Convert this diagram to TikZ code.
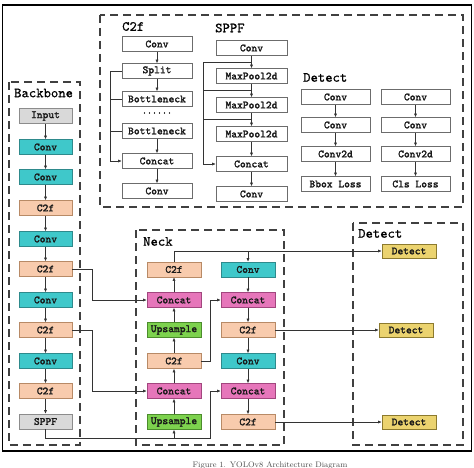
\documentclass[tikz,border=0pt]{standalone}
\usepackage{fontspec}
\newfontfamily\bxf{lmmono10-regular.otf}[FakeBold=1.8]
\newfontfamily\lbf{lmmono10-regular.otf}[FakeBold=0.6]
\usetikzlibrary{arrows.meta,calc}
\definecolor{cgray}{HTML}{D9D9D9}\definecolor{dgray}{HTML}{8C8C8C}
\definecolor{cconv}{HTML}{3FC8CA}\definecolor{dconv}{HTML}{2E8A8C}
\definecolor{cc2f}{HTML}{F8CBAD}\definecolor{dc2f}{HTML}{B88A66}
\definecolor{ccat}{HTML}{E676BA}\definecolor{dcat}{HTML}{A2467E}
\definecolor{cup}{HTML}{7DD24E}\definecolor{dup}{HTML}{4C8C2C}
\definecolor{cdet}{HTML}{EBD36F}\definecolor{ddet}{HTML}{8C7A2E}
\definecolor{lcol}{HTML}{333333}
\tikzset{
 bx/.style={draw, line width=0.6pt, minimum height=15pt, inner sep=0pt,
   font=\bxf\fontsize{11}{11}\selectfont, text=black!90},
 wb/.style={bx, fill=white, draw=gray!85!black},
 gb/.style={bx, fill=cgray, draw=dgray, minimum width=53pt},
 convb/.style={bx, fill=cconv, draw=dconv, minimum width=#1},
 c2fb/.style={bx, fill=cc2f, draw=dc2f, minimum width=#1},
 catb/.style={bx, fill=ccat, draw=dcat, minimum width=54pt},
 upb/.style={bx, fill=cup, draw=dup, minimum width=54pt},
 detb/.style={bx, fill=cdet, draw=ddet, minimum width=54pt, minimum height=14pt},
 lab/.style={anchor=west, inner sep=0pt, font=\lbf\fontsize{14}{14}\selectfont},
 dbox/.style={draw=black!75, line width=1.1pt, dash pattern=on 8pt off 5pt},
 arr/.style={draw=lcol, line width=0.55pt, -{Latex[length=3.5pt,width=3pt]}},
 ln/.style={draw=lcol, line width=0.55pt},
}
\begin{document}
\begin{tikzpicture}[x=1pt,y=-1pt]
\useasboundingbox (0,0) rectangle (474,468);
\draw[line width=1.8pt] (2.5,5) rectangle (471.5,451);
% dashed group boxes
\draw[dbox] (100,15) rectangle (463,207);
\draw[dbox] (9,82) rectangle (80,445);
\draw[dbox] (136,230) rectangle (284,445);
\draw[dbox] (353,223) rectangle (463,445);
% labels
\node[lab] (lc2f) at (122,26.5) {C2f};
\node[lab] (lsppf) at (215,28) {SPPF};
\node[lab] (ldet) at (303,77.5) {Detect};
\node[lab] (lbb) at (14,93) {Backbone};
\node[lab] (lneck) at (143,241.5) {Neck};
\node[lab] (ldet2) at (358,233.5) {Detect};
% C2f module
\begin{scope}[every node/.append style={minimum width=70pt}]
\node[wb] (tc1) at (157,44) {Conv};
\node[wb] (tsp) at (157,71) {Split};
\node[wb] (tb1) at (157,99) {Bottleneck};
\node[wb] (tb2) at (157,131) {Bottleneck};
\node[wb] (tcat) at (157,161) {Concat};
\node[wb] (tc2) at (157,191) {Conv};
\end{scope}
\node[inner sep=0pt, font=\bxf\fontsize{9.5}{9.5}\selectfont] (tdots) at (157,113) {......};
% SPPF module
\begin{scope}[every node/.append style={minimum width=71pt, minimum height=15.5pt}]
\node[wb] (sc1) at (251.5,48) {Conv};
\node[wb] (sm1) at (251.5,76) {MaxPool2d};
\node[wb] (sm2) at (251.5,105) {MaxPool2d};
\node[wb] (sm3) at (251.5,134) {MaxPool2d};
\node[wb] (scat) at (251.5,164) {Concat};
\node[wb] (sc2) at (251.5,194) {Conv};
\end{scope}
% Detect module
\begin{scope}[every node/.append style={minimum width=69pt, minimum height=16pt}]
\node[wb] (dl1) at (335.5,97) {Conv};
\node[wb] (dl2) at (335.5,125) {Conv};
\node[wb] (dl3) at (335.5,154) {Conv2d};
\node[wb] (dl4) at (335.5,184) {Bbox Loss};
\node[wb] (dr1) at (415.5,97) {Conv};
\node[wb] (dr2) at (415.5,125) {Conv};
\node[wb] (dr3) at (415.5,154) {Conv2d};
\node[wb] (dr4) at (415.5,184) {Cls Loss};
\end{scope}
% Backbone
\node[gb] (b1) at (45.5,116) {Input};
\node[convb=53pt] (b2) at (45.5,147) {Conv};
\node[convb=53pt] (b3) at (45.5,177) {Conv};
\node[c2fb=53pt] (b4) at (45.5,208) {C2f};
\node[convb=53pt] (b5) at (45.5,239) {Conv};
\node[c2fb=53pt] (b6) at (45.5,269) {C2f};
\node[convb=53pt] (b7) at (45.5,300) {Conv};
\node[c2fb=53pt] (b8) at (45.5,330) {C2f};
\node[convb=53pt] (b9) at (45.5,361) {Conv};
\node[c2fb=53pt] (b10) at (45.5,391) {C2f};
\node[gb] (b11) at (45.5,421.5) {SPPF};
% Neck
\node[c2fb=54pt] (nl1) at (174,269.5) {C2f};
\node[catb] (nl2) at (174,300) {Concat};
\node[upb] (nl3) at (174,330) {Upsample};
\node[c2fb=54pt] (nl4) at (174,361) {C2f};
\node[catb] (nl5) at (174,391) {Concat};
\node[upb] (nl6) at (174,422) {Upsample};
\node[convb=54pt] (nr1) at (248,269.5) {Conv};
\node[catb] (nr2) at (248,300) {Concat};
\node[c2fb=54pt] (nr3) at (248,330) {C2f};
\node[convb=54pt] (nr4) at (248,361) {Conv};
\node[catb] (nr5) at (248,391) {Concat};
\node[c2fb=54pt] (nr6) at (248,422) {C2f};
% Detect heads
\node[detb] (d1) at (409,251) {Detect};
\node[detb] (d2) at (406,330) {Detect};
\node[detb] (d3) at (409,422) {Detect};
% caption
\node[font=\fontsize{8}{8}\selectfont, text=black!70, inner sep=0pt] (cap) at (270,465) {Figure 1. YOLOv8 Architecture Diagram};
% vertical chains
\foreach \a/\b in {tc1/tsp,tsp/tb1,tb2/tcat,tcat/tc2,sc1/sm1,sm1/sm2,sm2/sm3,sm3/scat,scat/sc2,
  dl1/dl2,dl2/dl3,dl3/dl4,dr1/dr2,dr2/dr3,dr3/dr4,
  b1/b2,b2/b3,b3/b4,b4/b5,b5/b6,b6/b7,b7/b8,b8/b9,b9/b10,b10/b11,
  nl6/nl5,nl5/nl4,nl4/nl3,nl3/nl2,nl2/nl1,nr1/nr2,nr2/nr3,nr3/nr4,nr4/nr5,nr5/nr6}
  \draw[arr] (\a) -- (\b);
% C2f side line
\coordinate (cx) at (110,0);
\draw[arr] (tsp.west) -- (cx |- tsp.west) |- (tcat.west);
\draw[ln] (tb1.west) -- (cx |- tb1.west);
\draw[ln] (tb2.west) -- (cx |- tb2.west);
% SPPF side line
\coordinate (sx) at (203,0);
\coordinate (m1) at ($(sc1.south)!.5!(sm1.north)$);
\coordinate (m2) at ($(sm1.south)!.5!(sm2.north)$);
\coordinate (m3) at ($(sm2.south)!.5!(sm3.north)$);
\draw[arr] (m1) -- (sx |- m1) |- (scat.west);
\draw[ln] (m2) -- (sx |- m2);
\draw[ln] (m3) -- (sx |- m3);
% backbone to neck
\coordinate (bx) at (92,0);
\draw[arr] (b6.east) -- (bx |- b6.east) |- (nl2.west);
\draw[arr] (b8.east) -- (bx |- b8.east) |- (nl5.west);
\coordinate (sb) at (210,438.5);
\draw[arr] (b11.south) |- (sb) |- (nr5.west);
\draw[arr] (nl6.south |- sb) -- (nl6.south);
\draw[arr] (nl4.east) -- (sb |- nl4.east) |- (nr2.west);
% neck to detect
\draw[arr] (nl1.north) |- (d1.west);
\draw[arr] (nr1.north |- d1.west) -- (nr1.north);
\draw[arr] (nr3.east) -- (d2.west);
\draw[arr] (nr6.east) -- (d3.west);
\end{tikzpicture}
\end{document}
